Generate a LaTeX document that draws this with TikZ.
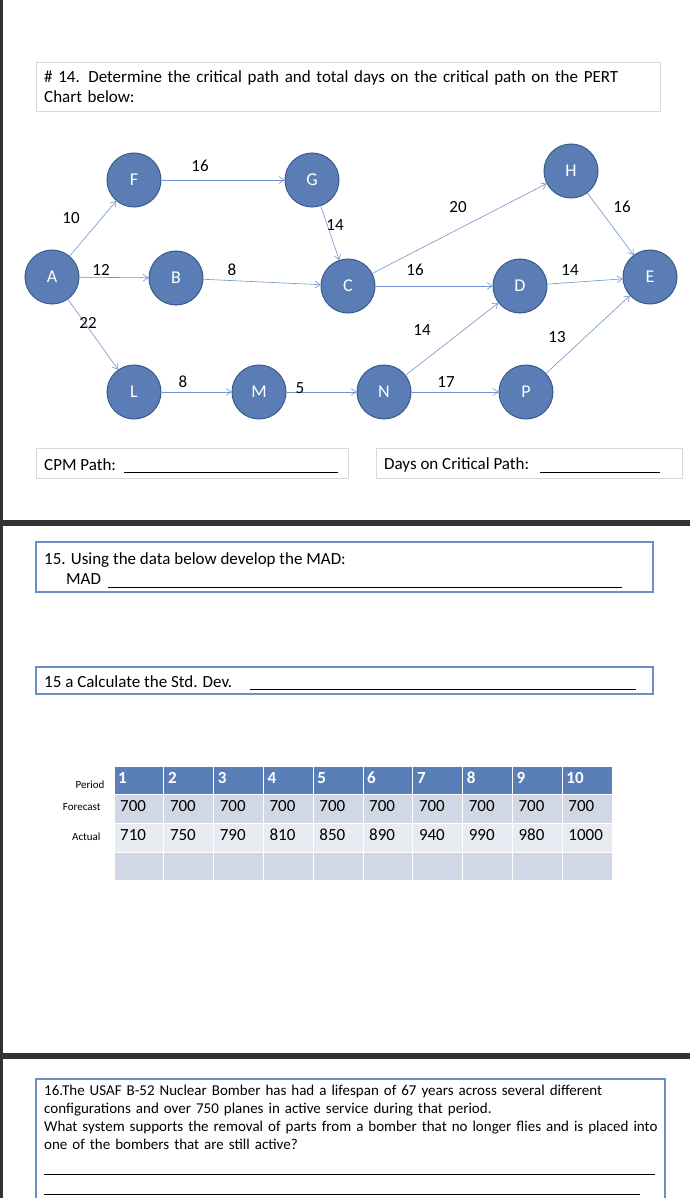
\documentclass[tikz,border=0pt]{standalone}
\usepackage{fontspec}
\setmainfont{Carlito}
\usetikzlibrary{shapes.geometric,arrows.meta}
\definecolor{nodeblue}{HTML}{5A7DB5}
\definecolor{nodeedge}{HTML}{3B5A8C}
\definecolor{boxblue}{HTML}{6C8EC4}
\definecolor{hdr}{HTML}{5A7FB8}
\definecolor{rowa}{HTML}{D0D8E6}
\definecolor{rowb}{HTML}{E8EBF2}
\definecolor{arr}{HTML}{6F93CC}
\begin{document}
\begin{tikzpicture}[x=1pt,y=-1pt,
 pn/.style={ellipse,fill=nodeblue,draw=nodeedge,line width=1pt,minimum width=54pt,minimum height=54pt,text=white,font=\fontsize{18}{20}\selectfont,inner sep=0pt},
 ar/.style={draw=arr,line width=0.6pt,-{Straight Barb[length=5pt,width=7pt]}},
 lb/.style={font=\fontsize{17}{19}\selectfont,inner sep=0pt},
 gbox/.style={draw=black!15,line width=0.6pt},
 bbox/.style={draw=boxblue,line width=1.5pt},
 tx/.style={font=\fontsize{17}{20}\selectfont,anchor=west,inner sep=0pt,align=left},
 cell/.style={font=\fontsize{17}{20}\selectfont,anchor=west,inner sep=0pt}]
\useasboundingbox (0,0) rectangle (690,1198);
\fill[black!80] (0,0) rectangle (3,1198);
\fill[black!80] (0,520) rectangle (690,526);
\fill[black!80] (0,1053) rectangle (690,1059);
% Q14
\draw[gbox] (36,62) rectangle (660,111);
\node[tx,text width=590pt] (q14) at (44,87) {\# 14.  Determine the critical path and total days on the critical path on the PERT\\Chart below:};
\node[pn] (A) at (52,277) {A};
\node[pn] (F) at (134,180) {F};
\node[pn] (G) at (312,180) {G};
\node[pn] (H) at (571,171) {H};
\node[pn] (B) at (176,278) {B};
\node[pn] (C) at (348,286) {C};
\node[pn] (D) at (520,286) {D};
\node[pn] (E) at (650,277) {E};
\node[pn] (L) at (134,392) {L};
\node[pn] (M) at (259,392) {M};
\node[pn] (N) at (384,392) {N};
\node[pn] (P) at (526,392) {P};
\draw[ar] (A) -- (F);
\draw[ar] (A) -- (B);
\draw[ar] (A) -- (L);
\draw[ar] (F) -- (G);
\draw[ar] (G) -- (C);
\draw[ar] (B) -- (C);
\draw[ar] (C) -- (H);
\draw[ar] (C) -- (D);
\draw[ar] (H) -- (E);
\draw[ar] (D) -- (E);
\draw[ar] (L) -- (M);
\draw[ar] (M) -- (N);
\draw[ar] (N) -- (D);
\draw[ar] (N) -- (P);
\draw[ar] (P) -- (E);
\node[lb] (l1) at (71,218) {10};
\node[lb] (l2) at (101,270) {12};
\node[lb] (l3) at (88,323) {22};
\node[lb] (l4) at (200,166) {16};
\node[lb] (l5) at (335,225) {14};
\node[lb] (l6) at (232,270) {8};
\node[lb] (l7) at (458,207) {20};
\node[lb] (l8) at (415,270) {16};
\node[lb] (l9) at (622,207) {16};
\node[lb] (l10) at (570,270) {14};
\node[lb] (l11) at (422,330) {14};
\node[lb] (l12) at (557,337) {13};
\node[lb] (l13) at (183,382) {8};
\node[lb] (l14) at (300,388) {5};
\node[lb] (l15) at (446,382) {17};
\draw[gbox] (36,448) rectangle (348,478);
\node[tx] (cpm) at (44,465) {CPM Path:};
\draw (124,472) -- (338,472);
\draw[gbox] (376,448) rectangle (682,478);
\node[tx] (days) at (384,465) {Days on Critical Path:};
\draw (540,472) -- (660,472);
% Q15
\draw[bbox] (36,542) rectangle (653,592);
\node[tx] (q15) at (44,560) {15.  Using the data below develop the MAD:};
\node[tx] (mad) at (66,579) {MAD};
\draw (108,587) -- (622,587);
\draw[bbox] (36,667) rectangle (653,694);
\node[tx] (q15a) at (44,682) {15 a   Calculate the Std. Dev.};
\draw (250,689) -- (636,689);
% table
\foreach \i in {0,...,9}{
  \pgfmathsetmacro{\xa}{114+\i*49.8}
  \pgfmathsetmacro{\xb}{114+(\i+1)*49.8}
  \fill[hdr] (\xa,767) rectangle (\xb,794);
  \fill[rowa] (\xa,794) rectangle (\xb,823);
  \fill[rowb] (\xa,823) rectangle (\xb,852);
  \fill[rowa] (\xa,852) rectangle (\xb,880);
  \draw[white,line width=0.8pt] (\xa,767) -- (\xa,880);
}
\draw[white,line width=0.8pt] (114,794) -- (612,794) (114,823) -- (612,823) (114,852) -- (612,852);
\node[font=\fontsize{11}{13}\selectfont,anchor=east] (per) at (108,785) {Period};
\node[font=\fontsize{11}{13}\selectfont,anchor=east] (fc) at (104,807) {Forecast};
\node[font=\fontsize{11}{13}\selectfont,anchor=east] (ac) at (104,837) {Actual};
\foreach \v [count=\i from 0] in {1,...,10}{
  \node[cell,text=white,font=\fontsize{17}{20}\bfseries] (h\v) at (118+\i*49.8,778) {\v};
}
\foreach \v [count=\i from 0] in {700,700,700,700,700,700,700,700,700,700}{
  \node[cell] (f\i) at (120+\i*49.8,806) {\v};
}
\foreach \v [count=\i from 0] in {710,750,790,810,850,890,940,990,980,1000}{
  \node[cell] (a\i) at (120+\i*49.8,835) {\v};
}
% Q16
\draw[bbox] (36,1079) rectangle (665,1210);
\node[tx,text width=625pt,font=\fontsize{15}{18}\selectfont,anchor=north west] (q16) at (44,1085) {16.The USAF B-52 Nuclear Bomber has had a lifespan of 67 years across several different\\configurations and over 750 planes in active service during that period.\\What system supports the removal of parts from a bomber that no longer flies and  is placed into\\one of the bombers that are still active?};
\draw (44,1174) -- (655,1174);
\draw (44,1194) -- (640,1194);
\end{tikzpicture}
\end{document}
